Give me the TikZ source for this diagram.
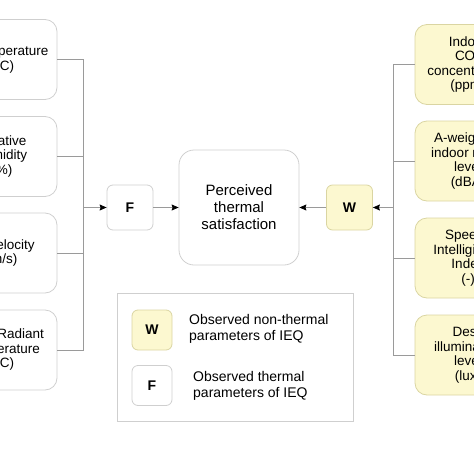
\documentclass[tikz,border=0pt]{standalone}
\usepackage{fontspec}
\setmainfont{Liberation Sans}
\usetikzlibrary{arrows.meta}

\definecolor{boxgray}{HTML}{CFCFCF}
\definecolor{linegray}{HTML}{9A9A9A}
\definecolor{paleyellow}{HTML}{FCF8D0}
\definecolor{yellowedge}{HTML}{DAD5A2}

\begin{document}
\begin{tikzpicture}[x=1pt, y=-1pt,
  sidebox/.style={draw=boxgray, line width=0.8pt, rounded corners=12pt, minimum width=110pt, minimum height=80pt, inner sep=0pt, align=center, font=\fontsize{13.5}{14.5}\selectfont},
  yelbox/.style={sidebox, fill=paleyellow, draw=yellowedge, minimum width=106pt},
  letterbox/.style={draw=boxgray, line width=0.8pt, rounded corners=6pt, minimum width=46pt, minimum height=45pt, font=\fontsize{14}{14}\selectfont\bfseries},
  keybox/.style={letterbox, minimum width=40pt, minimum height=40pt},
  conn/.style={draw=linegray, line width=0.8pt},
  arrow/.style={conn, -{Stealth[black, length=7pt, width=6pt, inset=1pt]}},
  keytext/.style={anchor=west, align=left, inner sep=0pt, font=\fontsize{14}{16.5}\selectfont}]
\useasboundingbox (0,0) rectangle (474,474);
\clip (0,0) rectangle (474,474);

% thermal parameters (left)
\node [sidebox] (air) at (2, 59.5) {Air temperature\\(°C)};
\node [sidebox] (hum) at (2, 156.5) {Relative\\humidity\\(\%)};
\node [sidebox] (vel) at (2, 253) {Air velocity\\(m/s)};
\node [sidebox] (mrt) at (2, 350) {Mean Radiant\\Temperature\\(°C)};

% non-thermal parameters (right)
\node [yelbox] (co2) at (468, 64.5) {Indoor\\CO\textsubscript{2}\\concentration\\(ppm)};
\node [yelbox] (noise) at (468, 161) {A-weighted\\indoor noise\\level\\(dBA)};
\node [yelbox] (sii) at (468, 258) {Speech\\Intelligibility\\Index\\(-)};
\node [yelbox] (lux) at (468, 355) {Desk\\illuminance\\level\\(lux)};

% middle row
\node [letterbox] (F) at (130, 207.5) {F};
\node [letterbox, fill=paleyellow, draw=yellowedge] (W) at (349.5, 207.5) {W};
\node [draw=boxgray, line width=0.8pt, rounded corners=15pt, minimum width=120pt, minimum height=115pt, align=center, font=\fontsize{15}{17}\selectfont] (sat) at (239, 207.5) {Perceived\\thermal\\satisfaction};

\coordinate (jL) at (83, 207.5);
\coordinate (jR) at (393, 207.5);

\draw [conn] (air.east) -| (jL);
\draw [conn] (hum.east) -| (jL);
\draw [conn] (vel.east) -| (jL);
\draw [conn] (mrt.east) -| (jL);
\draw [arrow] (jL) -- (F.west);
\draw [arrow] (F.east) -- (sat.west);

\draw [conn] (co2.west) -| (jR);
\draw [conn] (noise.west) -| (jR);
\draw [conn] (sii.west) -| (jR);
\draw [conn] (lux.west) -| (jR);
\draw [arrow] (jR) -- (W.east);
\draw [arrow] (W.west) -- (sat.east);

% key
\node [draw=boxgray, line width=0.8pt, minimum width=236pt, minimum height=128pt] (key) at (235, 357) {};
\node [keybox, fill=paleyellow, draw=yellowedge] (keyW) at (152, 330) {W};
\node [keybox] (keyF) at (152, 385.5) {F};
\node [keytext] (keyWtext) at (189, 329) {Observed non-thermal\\parameters of IEQ};
\node [keytext] (keyFtext) at (193, 386) {Observed thermal\\parameters of IEQ};
\end{tikzpicture}
\end{document}
